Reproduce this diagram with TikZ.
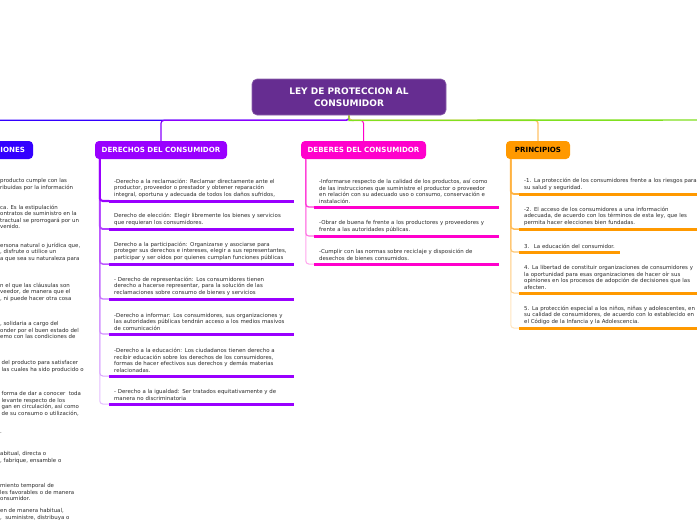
\documentclass[tikz,border=0pt]{standalone}
\usepackage{fontspec}
\setmainfont{DejaVu Sans}
\definecolor{rootcol}{HTML}{662D91}
\definecolor{defcol}{HTML}{3300FF}
\definecolor{dercol}{HTML}{9900FF}
\definecolor{debcol}{HTML}{FF00CC}
\definecolor{pricol}{HTML}{FF9900}
\definecolor{vercol}{HTML}{80E020}
\definecolor{txtcol}{HTML}{2A2A2A}
\tikzstyle{rootbox} = [draw=rootcol!75, fill=rootcol, text=white, rounded corners=5pt, line width=0.6pt, minimum width=194pt, minimum height=36pt, align=center, font=\fontsize{9}{12.5}\selectfont\bfseries]
\tikzstyle{headbox} = [rounded corners=4pt, minimum height=18pt, inner xsep=2pt, inner ysep=0pt, font=\fontsize{7.1}{8}\selectfont\bfseries]
\tikzstyle{itemtext} = [anchor=south west, inner xsep=5pt, inner ysep=3.2pt, text width=175pt, align=left, text=txtcol, font=\fontsize{5.43}{6.7}\selectfont]
\tikzstyle{cuttext} = [anchor=north west, inner sep=0pt, align=left, text=txtcol, font=\fontsize{5.43}{6.5}\selectfont]
\tikzstyle{bar} = [line width=3pt]
\tikzstyle{branch} = [rounded corners=3pt]
\begin{document}
\begin{tikzpicture}[x=1pt,y=-1pt]
\useasboundingbox (0,0) rectangle (697,520);
\clip (0,0) rectangle (697,520);
\fill[white] (0,0) rectangle (697,520);
% centre and main branches
\node[rootbox] (root) at (349,97) {LEY DE PROTECCION AL\\CONSUMIDOR};
\node[headbox, fill=defcol, text=white, text width=89pt, align=right] (defin) at (-13.5,150) {IONES\hspace*{6pt}};
\node[headbox, fill=dercol, text=white, minimum width=132pt] (derechos) at (161,150) {DERECHOS DEL CONSUMIDOR};
\node[headbox, fill=debcol, text=white, minimum width=125pt] (deberes) at (363.5,150) {DEBERES DEL CONSUMIDOR};
\node[headbox, fill=pricol, text=black, minimum width=64pt] (principios) at (538,150) {PRINCIPIOS};
\coordinate (finverde) at (720,120);
\draw[defcol, line width=1.2pt, rounded corners=3pt] (root.south) -- ++(0,5) -| (defin.north);
\draw[dercol!85!defcol, line width=1.2pt, rounded corners=3pt] (root.south) -- ++(0,5) -| (derechos.north);
\draw[debcol, line width=1pt, rounded corners=3pt] (root.south) -- ++(0,5) -| (deberes.north);
\draw[pricol!60, line width=1.4pt, rounded corners=3pt] (root.south) -- ++(0,5) -| (principios.north);
\draw[vercol, line width=1.4pt] (root.south) -- ++(0,5) -- (finverde);

% derechos
\node[itemtext] (reclamo) at (109,201) {-Derecho a la reclamación: Reclamar directamente ante el\\productor, proveedor o prestador y obtener reparación\\integral, oportuna y adecuada de todos los daños sufridos,};
\node[itemtext] (eleccion) at (109,229) {Derecho de elección: Elegir libremente los bienes y servicios\\que requieran los consumidores.};
\node[itemtext] (particip) at (109,264) {Derecho a la participación: Organizarse y asociarse para\\proteger sus derechos e intereses, elegir a sus representantes,\\participar y ser oídos por quienes cumplan funciones públicas};
\node[itemtext] (represen) at (109,299) {- Derecho de representación: Los consumidores tienen\\derecho a hacerse representar, para la solución de las\\reclamaciones sobre consumo de bienes y servicios};
\node[itemtext] (informar) at (109,334) {-Derecho a informar: Los consumidores, sus organizaciones y\\las autoridades públicas tendrán acceso a los medios masivos\\de comunicación};
\node[itemtext] (educa) at (109,376) {-Derecho a la educación: Los ciudadanos tienen derecho a\\recibir educación sobre los derechos de los consumidores,\\formas de hacer efectivos sus derechos y demás materias\\relacionadas.};
\node[itemtext] (igualdad) at (109,404) {- Derecho a la igualdad: Ser tratados equitativamente y de\\manera no discriminatoria};
\draw[branch, dercol!25, line width=1pt] ([xshift=5pt]derechos.south west) |- (igualdad.south west);
\draw[branch, dercol!35, line width=1pt] ([xshift=5pt]derechos.south west) |- (educa.south west);
\draw[branch, dercol!45, line width=1.1pt] ([xshift=5pt]derechos.south west) |- (informar.south west);
\draw[branch, dercol!55, line width=1.3pt] ([xshift=5pt]derechos.south west) |- (represen.south west);
\draw[branch, dercol!65, line width=1.5pt] ([xshift=5pt]derechos.south west) |- (particip.south west);
\draw[branch, dercol!75, line width=1.8pt] ([xshift=5pt]derechos.south west) |- (eleccion.south west);
\draw[branch, dercol, line width=2.1pt] ([xshift=5pt]derechos.south west) |- (reclamo.south west);
\draw[bar, dercol] (reclamo.south west) -- (reclamo.south east);
\draw[bar, dercol] (eleccion.south west) -- (eleccion.south east);
\draw[bar, dercol] (particip.south west) -- (particip.south east);
\draw[bar, dercol] (represen.south west) -- (represen.south east);
\draw[bar, dercol] (informar.south west) -- (informar.south east);
\draw[bar, dercol] (educa.south west) -- (educa.south east);
\draw[bar, dercol] (igualdad.south west) -- (igualdad.south east);

% deberes
\node[itemtext] (calidad) at (314,207) {-Informarse respecto de la calidad de los productos, así como\\de las instrucciones que suministre el productor o proveedor\\en relación con su adecuado uso o consumo, conservación e\\instalación.};
\node[itemtext] (buenafe) at (314,236) {-Obrar de buena fe frente a los productores y proveedores y\\frente a las autoridades públicas.};
\node[itemtext] (reciclaje) at (314,264) {-Cumplir con las normas sobre reciclaje y disposición de\\desechos de bienes consumidos.};
\draw[branch, debcol!35, line width=1pt] ([xshift=5pt]deberes.south west) |- (reciclaje.south west);
\draw[branch, debcol!55, line width=1.1pt] ([xshift=5pt]deberes.south west) |- (buenafe.south west);
\draw[branch, debcol!75, line width=1.3pt] ([xshift=5pt]deberes.south west) |- (calidad.south west);
\draw[bar, debcol] (calidad.south west) -- (calidad.south east);
\draw[bar, debcol] (buenafe.south west) -- (buenafe.south east);
\draw[bar, debcol] (reciclaje.south west) -- (reciclaje.south east);

% principios
\node[itemtext] (riesgos) at (519,194) {-1. La protección de los consumidores frente a los riesgos para\\su salud y seguridad.};
\node[itemtext] (acceso) at (519,229) {-2. El acceso de los consumidores a una información\\adecuada, de acuerdo con los términos de esta ley, que les\\permita hacer elecciones bien fundadas.};
\node[itemtext, text width=91pt] (consumo) at (519,252) {3.~ La educación del consumidor.};
\node[itemtext] (libertad) at (519,293) {4. La libertad de constituir organizaciones de consumidores y\\la oportunidad para esas organizaciones de hacer oír sus\\opiniones en los procesos de adopción de decisiones que las\\afecten.};
\node[itemtext] (ninos) at (519,328) {5. La protección especial a los niños, niñas y adolescentes, en\\su calidad de consumidores, de acuerdo con lo establecido en\\el Código de la Infancia y la Adolescencia.};
\draw[branch, pricol!25, line width=1pt] ([xshift=5pt]principios.south west) |- (ninos.south west);
\draw[branch, pricol!40, line width=1pt] ([xshift=5pt]principios.south west) |- (libertad.south west);
\draw[branch, pricol!55, line width=1.2pt] ([xshift=5pt]principios.south west) |- (consumo.south west);
\draw[branch, pricol!65, line width=1.5pt] ([xshift=5pt]principios.south west) |- (acceso.south west);
\draw[branch, pricol!75, line width=1.8pt] ([xshift=5pt]principios.south west) |- (riesgos.south west);
\draw[bar, pricol] (riesgos.south west) -- (riesgos.south east);
\draw[bar, pricol] (acceso.south west) -- (acceso.south east);
\draw[bar, pricol] (consumo.south west) -- (consumo.south east);
\draw[bar, pricol] (libertad.south west) -- (libertad.south east);
\draw[bar, pricol] (ninos.south west) -- (ninos.south east);

% left column, cut by the page edge
\node[cuttext] (cut1) at (0,178.5) {producto cumple con las\\ribuidas por la información};
\node[cuttext] (cut2) at (0,204.5) {ca. Es la estipulación\\ontratos de suministro en la\\tractual se prorrogará por un\\venido.};
\node[cuttext] (cut3) at (0,242.5) {ersona natural o jurídica que,\\, disfrute o utilice un\\a que sea su naturaleza para};
\node[cuttext] (cut4) at (0,282.5) {n el que las cláusulas son\\veedor, de manera que el\\, ni puede hacer otra cosa};
\node[cuttext] (cut5) at (0,321.5) {, solidaria a cargo del\\onder por el buen estado del\\emo con las condiciones de};
\node[cuttext] (cut6) at (1.5,360.5) {del producto para satisfacer\\las cuales ha sido producido o};
\node[cuttext] (cut7) at (1.5,391.5) {forma de dar a conocer~ toda\\levante respecto de los\\gan en circulación, así como\\de su consumo o utilización,};
\node[cuttext] (cut8) at (0,432.5) {.};
\node[cuttext] (cut9) at (0,451.5) {abitual, directa o\\, fabrique, ensamble o};
\node[cuttext] (cut10) at (0,483.5) {miento temporal de\\les favorables o de manera\\onsumidor.};
\node[cuttext] (cut11) at (0,508.5) {en de manera habitual,\\,~ suministre, distribuya o};
\end{tikzpicture}
\end{document}
